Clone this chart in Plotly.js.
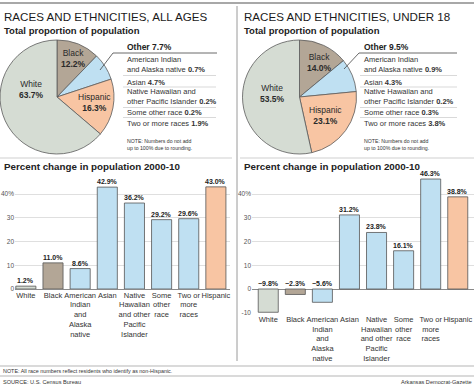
<!DOCTYPE html>
<html><head><meta charset="utf-8">
<script src="https://cdn.plot.ly/plotly-3.0.1.min.js"></script>
<style>html,body{margin:0;padding:0;background:#fff;}#chart{width:474px;height:391px;}</style>
</head><body><div id="chart"></div>
<script>
// ---------------- DATA ----------------
const pieLabels = ['Black', 'Other', 'Hispanic', 'White'];
const pieAll = [12.2, 7.7, 16.3, 63.7];
const pieU18 = [14.0, 9.5, 23.1, 53.5];
const otherLabels = ['American Indian<br>and Alaska native', 'Asian', 'Native Hawaiian and<br>other Pacific Islander', 'Some other race', 'Two or more races'];
const otherAll = [0.7, 4.7, 0.2, 0.2, 1.9];
const otherU18 = [0.9, 4.3, 0.2, 0.3, 3.8];
const barCats = ['White', 'Black', 'American<br>Indian<br>and<br>Alaska<br>native', 'Asian', 'Native<br>Hawaiian<br>and other<br>Pacific<br>Islander', 'Some<br>other<br>race', 'Two or<br>more<br>races', 'Hispanic'];
const changeAll = [1.2, 11.0, 8.6, 42.9, 36.2, 29.2, 29.6, 43.0];
const changeU18 = [-9.8, -2.3, -5.6, 31.2, 23.8, 16.1, 46.3, 38.8];
const tickValsAll = [0, 10, 20, 30, 40];
const tickTextAll = ['0', '10', '20', '30', '40%'];
const tickValsU18 = [-10, 0, 10, 20, 30, 40];
const tickTextU18 = ['-10', '0', '10', '20', '30', '40%'];

// ---------------- STYLE / LAYOUT ----------------
const W = 474, H = 391;
const F = 'Liberation Sans, Arial, sans-serif';
const px = x => x / W;
const py = y => 1 - y / H;
const cWhite = '#d5dcd3', cBlack = '#b3a696', cBlue = '#bfe0f2', cHisp = '#f8c5a3';
const pieColors = [cBlack, cBlue, cHisp, cWhite];
const barColors = [cWhite, cBlack, cBlue, cBlue, cBlue, cBlue, cBlue, cHisp];
const fmt = v => (v < 0 ? '\u2212' + Math.abs(v).toFixed(1) : v.toFixed(1)) + '%';

const traces = [];
const annotations = [];
const shapes = [];
function L(x0, y0, x1, y1, color, width) {
  shapes.push({type: 'line', xref: 'paper', yref: 'paper', x0: px(x0), y0: py(y0), x1: px(x1), y1: py(y1), line: {color: color, width: width}});
}
function T(x, y, text, size, opts) {
  annotations.push(Object.assign({xref: 'paper', yref: 'paper', x: px(x), y: py(y), text: text, showarrow: false,
    xanchor: 'left', yanchor: 'middle', align: 'left', font: {family: F, size: size, color: '#222'}}, opts || {}));
}

const panels = [
  {ox: 0, title: 'RACES AND ETHNICITIES, ALL AGES', pie: pieAll, other: otherAll, change: changeAll,
   tv: tickValsAll, tt: tickTextAll, pieCx: 57, pieLab: [[73, 58], null, [94, 102], [32, 90]],
   lead: [[100, 70], [113, 53], [217, 53]], listX: 125, sepX: [123, 216],
   xdom: [15, 230], xr: [-0.4, 7.52], yr: [0, 48], ybot: 289, xa: 'x', ya: 'y'},
  {ox: 240, title: 'RACES AND ETHNICITIES, UNDER 18', pie: pieU18, other: otherU18, change: changeU18,
   tv: tickValsU18, tt: tickTextU18, pieCx: 299.5, pieLab: [[319, 62], null, [325, 115], [272, 93]],
   lead: [[344, 69], [359, 53], [457, 53]], listX: 362, sepX: [360, 457],
   xdom: [252, 474], xr: [-0.6, 7.6], yr: [-10.3, 48], ybot: 289 + 10.3 * 2.375, xa: 'x2', ya: 'y2'}
];

const layout = {
  width: W, height: H, margin: {l: 0, r: 0, t: 0, b: 0},
  paper_bgcolor: '#fff', plot_bgcolor: 'rgba(0,0,0,0)',
  showlegend: false, bargap: 0.26,
  font: {family: F, color: '#222'}
};

panels.forEach((p, k) => {
  const tx = k === 0 ? 2 : 242;
  T(tx, 16.5, p.title, 11.6, {font: {family: F, size: 11.6, color: '#1a1a1a'}});
  T(tx, 30.5, '<b>Total proportion of population</b>', 9.5);
  T(tx, 166, '<b>Percent change in population 2000-10</b>', 9.8);

  // pie
  traces.push({type: 'pie', labels: pieLabels, values: p.pie, sort: false, direction: 'clockwise', rotation: 0,
    textinfo: 'none', hoverinfo: 'skip', showlegend: false,
    marker: {colors: pieColors, line: {color: '#5a5a5a', width: 0.8}},
    domain: {x: [px(p.pieCx - 57), px(p.pieCx + 57)], y: [py(154), py(40)]}});
  p.pieLab.forEach((pos, i) => {
    if (!pos) return;
    T(pos[0], pos[1], pieLabels[i] + '<br><b>' + p.pie[i].toFixed(1) + '%</b>', 8.5,
      {xanchor: 'center', align: 'center', font: {family: F, size: 8.5, color: '#2a2a2a'}});
  });
  // leader line for Other
  L(p.lead[0][0], p.lead[0][1], p.lead[1][0], p.lead[1][1], '#444', 0.8);
  L(p.lead[1][0], p.lead[1][1], p.lead[2][0], p.lead[2][1], '#444', 0.8);
  T(p.listX, 47, '<b>' + pieLabels[1] + ' ' + p.pie[1].toFixed(1) + '%</b>', 8.5);
  const ly = [65, 82, 96.5, 112.5, 123.5];
  otherLabels.forEach((lab, i) => {
    T(p.listX, ly[i], lab + ' <b>' + p.other[i].toFixed(1) + '%</b>', 7.5, {font: {family: F, size: 7.5, color: '#333'}});
  });
  [75.5, 87, 107.5, 117.5].forEach(y => L(p.sepX[0], y, p.sepX[1], y, '#c8c8c8', 0.7));
  T(p.listX, 144.5, 'NOTE: Numbers do not add<br>up to 100% due to rounding.', 5.2, {font: {family: F, size: 5.2, color: '#333'}});

  // section separator
  L(k === 0 ? 0 : 240, 158, k === 0 ? 232 : 474, 158, '#cfcfcf', 1);

  // bars
  traces.push({type: 'bar', x: barCats, y: p.change, xaxis: p.xa, yaxis: p.ya, hoverinfo: 'skip', showlegend: false,
    marker: {color: barColors, line: {color: '#555', width: 0.8}}, cliponaxis: false});
  p.change.forEach((v, i) => {
    annotations.push({xref: p.xa, yref: p.ya, x: barCats[i], y: Math.max(v, 0), text: '<b>' + fmt(v) + '</b>',
      showarrow: false, xanchor: 'center', yanchor: 'bottom', yshift: 0,
      font: {family: F, size: 7, color: '#222'}});
  });
  const axx = {domain: [px(p.xdom[0]), px(p.xdom[1])], range: p.xr, type: 'category', anchor: p.ya,
    showgrid: false, zeroline: false, showline: false, ticks: '', tickangle: 0,
    tickfont: {family: F, size: 7.5, color: '#333'}, fixedrange: true};
  const axy = {domain: [py(p.ybot), py(289 - 48 * 2.375)], range: p.yr, anchor: p.xa,
    tickvals: p.tv, ticktext: p.tt, ticks: '', showgrid: true, gridcolor: '#d2d2d2', gridwidth: 0.7,
    zeroline: true, zerolinecolor: '#8a8a8a', zerolinewidth: 1, showline: false,
    tickfont: {family: F, size: 6.5, color: '#555'}, fixedrange: true};
  layout[k === 0 ? 'xaxis' : 'xaxis2'] = axx;
  layout[k === 0 ? 'yaxis' : 'yaxis2'] = axy;
});

// frame lines
L(0, 3, 474, 3, '#a8a8a8', 2);
L(237, 6, 237, 361, '#9a9a9a', 1);
L(0, 366, 474, 366, '#b5b5b5', 1);
L(0, 376, 474, 376, '#b5b5b5', 1);
T(1, 371, 'NOTE: All race numbers reflect residents who identify as non-Hispanic.', 5.4, {font: {family: F, size: 5.4, color: '#333'}});
T(1, 381.5, 'SOURCE: U.S. Census Bureau', 5.6, {font: {family: F, size: 5.6, color: '#333'}});
T(474, 381.5, 'Arkansas Democrat-Gazette', 5.6, {xanchor: 'right', align: 'right', font: {family: F, size: 5.6, color: '#333'}});

layout.annotations = annotations;
layout.shapes = shapes;
Plotly.newPlot('chart', traces, layout, {staticPlot: true, displayModeBar: false});
</script>
</body></html>
